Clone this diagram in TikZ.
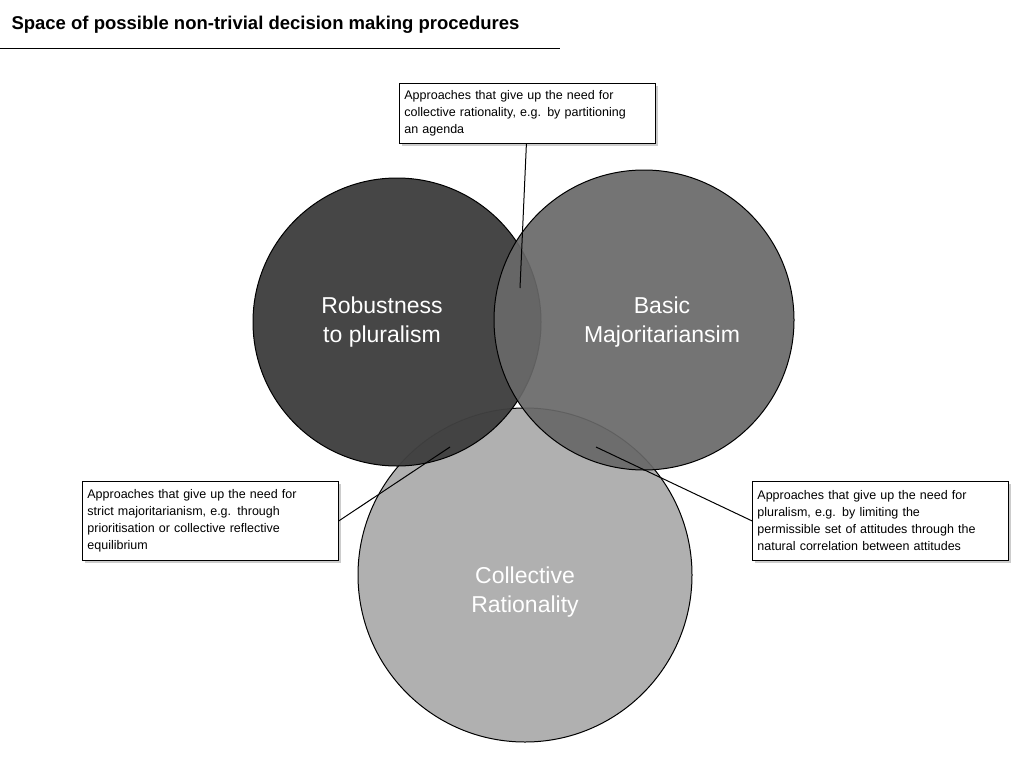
\documentclass[tikz,border=0pt]{standalone}
\usepackage{fontspec}
\setmainfont{Liberation Sans}
\usetikzlibrary{shadows}
\begin{document}
\begin{tikzpicture}[x=1pt,y=-1pt,
 circ/.style={draw=black,line width=1pt},
 big/.style={text=white,font=\fontsize{23}{29}\selectfont,align=center},
 box/.style={draw=black,fill=white,line width=0.8pt,anchor=north west,align=left,
   font=\fontsize{12.5}{17}\selectfont,inner sep=5pt,text width=246pt,
   drop shadow={shadow xshift=3pt,shadow yshift=-3pt,opacity=0.4}},
 lead/.style={line width=1pt}]
\useasboundingbox (0,0) rectangle (1024,768);
\node[anchor=west,font=\bfseries\fontsize{18.5}{20}\selectfont] (title) at (8,25) {Space of possible non-trivial decision making procedures};
\draw[line width=0.8pt] (0,48) coordinate (u1) -- (560,48) coordinate (u2);
\node[circ,circle,fill={rgb,255:red,176;green,176;blue,176},minimum size=334pt,inner sep=0] (cr) at (525,575) {};
\node[circ,circle,fill={rgb,255:red,64;green,64;blue,64},fill opacity=0.97,minimum size=288pt,inner sep=0] (rp) at (397,322) {};
\node[circ,circle,fill={rgb,255:red,104;green,104;blue,104},fill opacity=0.92,minimum size=300pt,inner sep=0] (bm) at (644,320) {};
\node[big] (trp) at (382,322) {Robustness\\to pluralism};
\node[big] (tbm) at (662,322) {Basic\\Majoritariansim};
\node[big] (tcr) at (525,592) {Collective\\Rationality};
\node[box,minimum height=60pt] (b1) at (399,83) {Approaches that give up the need for\\collective rationality, e.g. by partitioning\\an agenda};
\node[box,minimum height=79pt] (b2) at (82,481) {Approaches that give up the need for\\strict majoritarianism, e.g. through\\prioritisation or collective reflective\\equilibrium};
\node[box,minimum height=79pt] (b3) at (752,481) {Approaches that give up the need for\\pluralism, e.g. by limiting the\\permissible set of attitudes through the\\natural correlation between attitudes};
\coordinate (p1) at (520,288);
\coordinate (p2) at (450,447);
\coordinate (p3) at (596,447);
\draw[lead] (b1.south) ++(-1,0) -- (p1);
\draw[lead] (b2.east) -- (p2);
\draw[lead] (b3.west) -- (p3);
\end{tikzpicture}
\end{document}
